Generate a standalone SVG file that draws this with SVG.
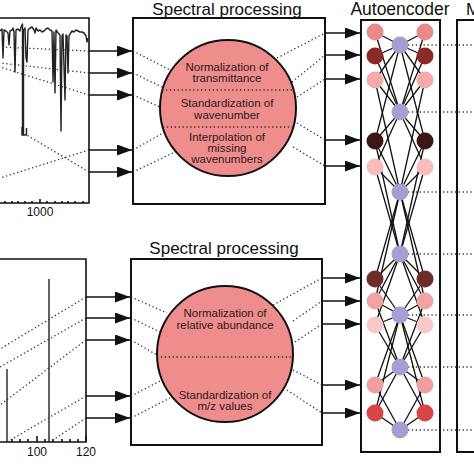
<svg xmlns="http://www.w3.org/2000/svg" width="474" height="474" viewBox="0 0 474 474">
<defs>
<marker id="ah" markerUnits="userSpaceOnUse" markerWidth="15" markerHeight="11" refX="15" refY="5.5" orient="auto"><path d="M0,0 L15,5.5 L0,11 z" fill="#111"/></marker>
<style>
.box{fill:#fff;stroke:#111;stroke-width:2}
.ax{fill:none;stroke:#111;stroke-width:1.6}
.sp{fill:none;stroke:#222;stroke-width:1.4;stroke-linejoin:round}
.dot{fill:none;stroke:#333;stroke-width:1.3;stroke-dasharray:1.3 2.6}
.arr{stroke:#111;stroke-width:1.6;marker-end:url(#ah)}
.circ{fill:#ef8d8d;stroke:#111;stroke-width:2}
.title{font-family:"Liberation Sans",Arial,sans-serif;font-size:17px;fill:#111;text-anchor:middle}
.lbl{font-family:"Liberation Sans",Arial,sans-serif;font-size:11.5px;fill:#2a1a1a;text-anchor:middle}
.tick{font-family:"Liberation Sans",Arial,sans-serif;font-size:12px;fill:#111;text-anchor:middle}
.net line{stroke:#111;stroke-width:1.3}
.pu{fill:#a59fd1}
</style>
</defs>
<rect width="474" height="474" fill="#fff"/>

<!-- IR spectrum -->
<g id="ir-spectrum">
<path class="ax" d="M0,18 H89 V203 H0"/>
<path class="ax" d="M5,203v-2M12,203v-2M18,203v-2M25,203v-2M32,203v-2M40,203v-4M47,203v-2M55,203v-2M62,203v-2M68,203v-2M75,203v-2M83,203v-2"/>
<text class="tick" x="40" y="216">1000</text>
<path class="sp" d="M0,31 L2,29 L3,58 L4,30 L6,31 L8,33 L9,45 L10,31 L12,30 L13,28 L14,32 L15,72 L16,30 L18,29 L20,31 L21,27 L22.5,24 L22.5,134 L23.5,134 L23.5,30 L25,28 L26,58 L27,62 L28,30 L30,28 L32,27 L34,30 L35,33 L36,28 L38,31 L40,30 L42,32 L44,31 L46,29 L48,28 L50,30 L52,31 L53,82 L54,32 L55,93 L56,30 L58,33 L60,35 L61,131 L62,36 L63,34 L65,100 L66,35 L67,36 L68,73 L69,36 L70,34 L72,31 L74,32 L76,30 L78,31 L80,32 L82,32 L84,33 L86,36 L87,42 L88,38"/>
<path class="sp" d="M22,127 V135 H26.5 V128"/>
<path class="dot" d="M89,51 L0,47 M89,73 L0,63 M89,95 L0,67 M89,150 L0,178 M89,172 L25,134"/>
</g>

<!-- MS spectrum -->
<g id="ms-spectrum">
<path class="ax" d="M0,259 H86 V442 H0"/>
<path class="ax" d="M12,442v-3M20,442v-3M28,442v-3M37,442v-6M45,442v-3M53,442v-3M62,442v-3M70,442v-3M78,442v-3M86,442v-6"/>
<text class="tick" x="37" y="456">100</text>
<text class="tick" x="86" y="456">120</text>
<path class="sp" d="M7,442 V369 M49,442 V279" stroke-width="1.8"/>
<path class="dot" d="M86,297 L0,349 M86,318 L0,367 M86,340 L0,405 M86,396 L7,442 M86,418 L50,442"/>
</g>

<!-- Spectral processing (IR) -->
<g id="proc-ir">
<text class="title" x="227" y="15">Spectral processing</text>
<rect class="box" x="133" y="18" width="192" height="186"/>
<circle class="circ" cx="228" cy="108" r="68"/>
<path class="dot" d="M162,90 H294 M163,127 H293"/>
<text class="lbl" x="227" y="71">Normalization of</text>
<text class="lbl" x="227" y="82">transmittance</text>
<text class="lbl" x="227" y="107">Standardization of</text>
<text class="lbl" x="227" y="119">wavenumber</text>
<text class="lbl" x="227" y="141">Interpolation of</text>
<text class="lbl" x="227" y="152">missing</text>
<text class="lbl" x="227" y="163">wavenumbers</text>
<path class="dot" d="M133,51 L170,70 M133,73 L162,87 M133,95 L160,107 M133,150 L163,133 M133,172 L175,152"/>
<path class="dot" d="M277,58 L325,33 M292,82 L325,55 M297,97 L325,79 M297,123 L325,140 M293,147 L325,166"/>
</g>

<!-- Spectral processing (MS) -->
<g id="proc-ms">
<text class="title" x="224" y="254">Spectral processing</text>
<rect class="box" x="131" y="259" width="191" height="186"/>
<circle class="circ" cx="225" cy="354" r="68"/>
<path class="dot" d="M157,357 H293"/>
<text class="lbl" x="225" y="317">Normalization of</text>
<text class="lbl" x="225" y="329">relative abundance</text>
<text class="lbl" x="225" y="399">Standardization of</text>
<text class="lbl" x="225" y="410">m/z values</text>
<path class="dot" d="M131,297 L167,313 M131,318 L160,332 M131,340 L157,355 M131,396 L162,380 M131,418 L170,398"/>
<path class="dot" d="M273,305 L322,278 M293,321 L322,301 M295,342 L322,324 M293,370 L322,385 M287,390 L322,413"/>
</g>

<!-- Connectors -->
<g id="connectors">
<line class="arr" x1="89" y1="51" x2="132" y2="51"/>
<line class="arr" x1="89" y1="73" x2="132" y2="73"/>
<line class="arr" x1="89" y1="95" x2="132" y2="95"/>
<line class="arr" x1="89" y1="150" x2="132" y2="150"/>
<line class="arr" x1="89" y1="172" x2="132" y2="172"/>
<line class="arr" x1="86" y1="297" x2="130" y2="297"/>
<line class="arr" x1="86" y1="318" x2="130" y2="318"/>
<line class="arr" x1="86" y1="340" x2="130" y2="340"/>
<line class="arr" x1="86" y1="396" x2="130" y2="396"/>
<line class="arr" x1="86" y1="418" x2="130" y2="418"/>
<line class="arr" x1="325" y1="33" x2="360" y2="33"/>
<line class="arr" x1="325" y1="55" x2="360" y2="55"/>
<line class="arr" x1="325" y1="79" x2="360" y2="79"/>
<line class="arr" x1="325" y1="140" x2="360" y2="140"/>
<line class="arr" x1="325" y1="166" x2="360" y2="166"/>
<line class="arr" x1="322" y1="278" x2="360" y2="278"/>
<line class="arr" x1="322" y1="301" x2="360" y2="301"/>
<line class="arr" x1="322" y1="324" x2="360" y2="324"/>
<line class="arr" x1="322" y1="385" x2="360" y2="385"/>
<line class="arr" x1="322" y1="413" x2="360" y2="413"/>
<path class="dot" d="M408,45 H474 M408,112 H474 M408,192 H474 M408,254 H474 M408,315 H474 M408,367 H474 M408,430 H474"/>
</g>

<!-- Autoencoder -->
<g id="autoencoder">
<text class="title" x="400" y="15" style="font-size:17.5px">Autoencoder</text>
<rect class="box" x="361" y="20" width="79" height="432" style="fill:none"/>
<g class="net">
<line x1="400" y1="45" x2="375" y2="32"/><line x1="400" y1="45" x2="375" y2="56"/><line x1="400" y1="45" x2="375" y2="80"/><line x1="400" y1="45" x2="375" y2="141"/>
<line x1="400" y1="45" x2="425" y2="32"/><line x1="400" y1="45" x2="425" y2="56"/><line x1="400" y1="45" x2="425" y2="80"/><line x1="400" y1="45" x2="425" y2="141"/>
<line x1="400" y1="112" x2="375" y2="32"/><line x1="400" y1="112" x2="375" y2="56"/><line x1="400" y1="112" x2="375" y2="80"/><line x1="400" y1="112" x2="375" y2="141"/><line x1="400" y1="112" x2="375" y2="167"/>
<line x1="400" y1="112" x2="425" y2="32"/><line x1="400" y1="112" x2="425" y2="56"/><line x1="400" y1="112" x2="425" y2="80"/><line x1="400" y1="112" x2="425" y2="141"/><line x1="400" y1="112" x2="425" y2="167"/>
<line x1="400" y1="192" x2="375" y2="80"/><line x1="400" y1="192" x2="375" y2="141"/><line x1="400" y1="192" x2="375" y2="167"/><line x1="400" y1="192" x2="375" y2="279"/><line x1="400" y1="192" x2="375" y2="301"/>
<line x1="400" y1="192" x2="425" y2="80"/><line x1="400" y1="192" x2="425" y2="141"/><line x1="400" y1="192" x2="425" y2="167"/><line x1="400" y1="192" x2="425" y2="279"/><line x1="400" y1="192" x2="425" y2="301"/>
<line x1="400" y1="254" x2="375" y2="141"/><line x1="400" y1="254" x2="375" y2="167"/><line x1="400" y1="254" x2="375" y2="279"/><line x1="400" y1="254" x2="375" y2="301"/><line x1="400" y1="254" x2="375" y2="325"/>
<line x1="400" y1="254" x2="425" y2="141"/><line x1="400" y1="254" x2="425" y2="167"/><line x1="400" y1="254" x2="425" y2="279"/><line x1="400" y1="254" x2="425" y2="301"/><line x1="400" y1="254" x2="425" y2="325"/>
<line x1="400" y1="315" x2="375" y2="279"/><line x1="400" y1="315" x2="375" y2="301"/><line x1="400" y1="315" x2="375" y2="325"/><line x1="400" y1="315" x2="375" y2="385"/><line x1="400" y1="315" x2="375" y2="413"/>
<line x1="400" y1="315" x2="425" y2="279"/><line x1="400" y1="315" x2="425" y2="301"/><line x1="400" y1="315" x2="425" y2="325"/><line x1="400" y1="315" x2="425" y2="385"/><line x1="400" y1="315" x2="425" y2="413"/>
<line x1="400" y1="367" x2="375" y2="301"/><line x1="400" y1="367" x2="375" y2="325"/><line x1="400" y1="367" x2="375" y2="385"/><line x1="400" y1="367" x2="375" y2="413"/>
<line x1="400" y1="367" x2="425" y2="301"/><line x1="400" y1="367" x2="425" y2="325"/><line x1="400" y1="367" x2="425" y2="385"/><line x1="400" y1="367" x2="425" y2="413"/>
<line x1="400" y1="430" x2="375" y2="385"/><line x1="400" y1="430" x2="375" y2="413"/>
<line x1="400" y1="430" x2="425" y2="385"/><line x1="400" y1="430" x2="425" y2="413"/>
</g>
<g id="ae-nodes">
<circle cx="375" cy="32" r="8.5" fill="#e98989"/><circle cx="425" cy="32" r="8.5" fill="#e98989"/>
<circle cx="375" cy="56" r="8.5" fill="#8c2a2a"/><circle cx="425" cy="56" r="8.5" fill="#8c2a2a"/>
<circle cx="375" cy="80" r="8.5" fill="#f2aaaa"/><circle cx="425" cy="80" r="8.5" fill="#f2aaaa"/>
<circle cx="375" cy="141" r="8.5" fill="#3e1515"/><circle cx="425" cy="141" r="8.5" fill="#3e1515"/>
<circle cx="375" cy="167" r="8.5" fill="#f5bdbd"/><circle cx="425" cy="167" r="8.5" fill="#f5bdbd"/>
<circle cx="375" cy="279" r="8.5" fill="#6e2b2b"/><circle cx="425" cy="279" r="8.5" fill="#6e2b2b"/>
<circle cx="375" cy="301" r="8.5" fill="#f0a3a3"/><circle cx="425" cy="301" r="8.5" fill="#f0a3a3"/>
<circle cx="375" cy="325" r="8.5" fill="#f6caca"/><circle cx="425" cy="325" r="8.5" fill="#f6caca"/>
<circle cx="375" cy="385" r="8.5" fill="#f0a0a0"/><circle cx="425" cy="385" r="8.5" fill="#f0a0a0"/>
<circle cx="375" cy="413" r="8.5" fill="#d84545"/><circle cx="425" cy="413" r="8.5" fill="#d84545"/>
<circle class="pu" cx="400" cy="45" r="8.5"/><circle class="pu" cx="400" cy="112" r="8.5"/><circle class="pu" cx="400" cy="192" r="8.5"/>
<circle class="pu" cx="400" cy="254" r="8.5"/><circle class="pu" cx="400" cy="315" r="8.5"/><circle class="pu" cx="400" cy="367" r="8.5"/><circle class="pu" cx="400" cy="430" r="8.5"/>
</g>
</g>

<!-- Next stage (cut off) -->
<g id="next-stage">
<text class="title" x="466" y="15" style="text-anchor:start">M</text>
<rect x="457" y="20" width="30" height="432" fill="none" stroke="#111" stroke-width="2"/>
</g>
</svg>
